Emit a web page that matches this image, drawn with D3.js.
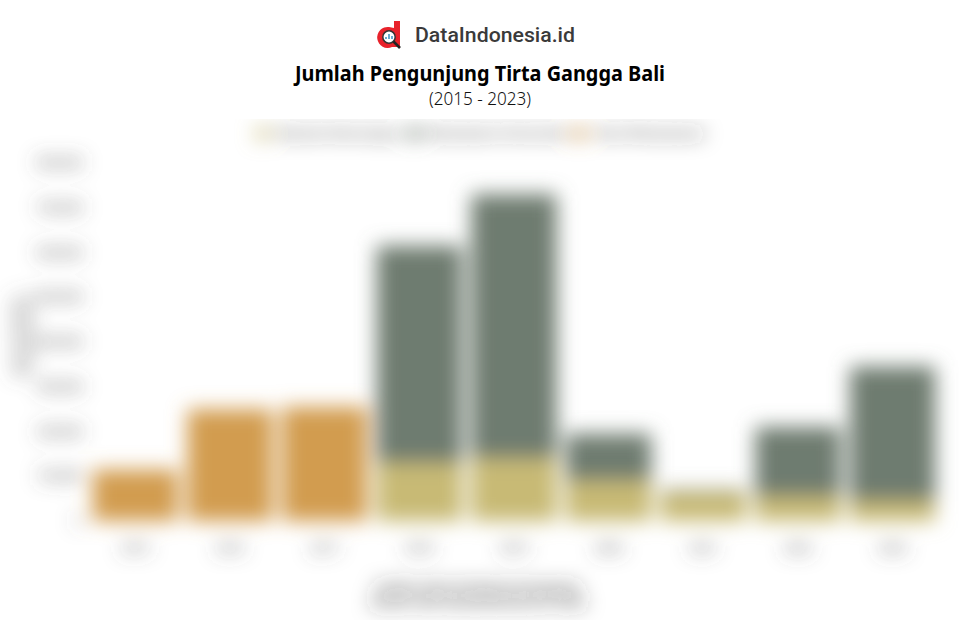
<!DOCTYPE html>
<html><head><meta charset="utf-8">
<script src="https://cdn.jsdelivr.net/npm/d3@7"></script>
<style>html,body{margin:0;background:#fff}svg{display:block}text{font-family:"Noto Sans",sans-serif}</style>
</head><body><svg id="c" width="960" height="620"></svg>
<script>
const years = ["2015","2016","2017","2018","2019","2020","2021","2022","2023"];
const seriesNames = ["Wisatawan Mancanegara","Wisatawan Domestik","Total Wisatawan"];
const seriesOrange = [115000,250000,255000,0,0,0,0,0,0];
const seriesKhaki = [0,0,0,130000,140000,90000,62000,55000,45000];
const seriesGrey = [0,0,0,485000,590000,105000,8000,155000,300000];
const yTicks = [0,100000,200000,300000,400000,500000,600000,700000,800000];
const colors = ["#d29c50","#c8ba74","#6e7b70"];
const svg = d3.select("#c");

// header
const logo = svg.append("g").attr("transform","translate(378,21)");
logo.append("path").attr("d","M11 6 A10.5 10.5 0 1 0 14 26 L22 26 L22 0 L16 0 L16 7 Z").attr("fill","#e8222b");
logo.append("circle").attr("cx",11).attr("cy",16).attr("r",6.2).attr("fill","#fff").attr("stroke","#333").attr("stroke-width",1.5);
logo.append("path").attr("d","M15.5 20.5 L22 27").attr("stroke","#222").attr("stroke-width",2.6);
logo.append("path").attr("d","M8 18 v-2 M11 18 v-5 M14 18 v-3").attr("stroke","#4d9ec9").attr("stroke-width",1.7);
svg.append("text").attr("x",415).attr("y",42).attr("font-size",21).attr("font-weight",500).style("font-family","Roboto").attr("fill","#3a3a3a").attr("textLength",160).attr("lengthAdjust","spacingAndGlyphs").text("DataIndonesia.id");
svg.append("text").attr("x",480).attr("y",81).attr("text-anchor","middle").attr("font-size",22).attr("font-weight",700).attr("fill","#000").attr("textLength",370).attr("lengthAdjust","spacingAndGlyphs").text("Jumlah Pengunjung Tirta Gangga Bali");
svg.append("text").attr("x",480).attr("y",105).attr("text-anchor","middle").attr("font-size",18).attr("font-weight",300).attr("fill","#111").attr("textLength",102).attr("lengthAdjust","spacingAndGlyphs").text("(2015 - 2023)");

// blurred chart
const defs = svg.append("defs");
defs.append("filter").attr("id","b").attr("filterUnits","userSpaceOnUse").attr("x",-40).attr("y",70).attr("width",1040).attr("height",600)
  .append("feGaussianBlur").attr("stdDeviation",10);
defs.append("clipPath").attr("id","cp").append("rect").attr("x",0).attr("y",119).attr("width",960).attr("height",501);
const outer = svg.append("g").attr("clip-path","url(#cp)");
const g = outer.append("g").attr("filter","url(#b)");

const x = d3.scaleBand().domain(years).range([88,940]).paddingInner(0.1).paddingOuter(0.05);
const y = d3.scaleLinear().domain([0,800000]).range([521,163]);

// y axis
g.selectAll(".yt").data(yTicks).join("text").attr("x",82).attr("y",d=>y(d)+4).attr("text-anchor","end").attr("font-size",12).attr("font-weight",600).attr("fill","#555")
  .text(d=>d3.format(",")(d).replace(/,/g,"."));
g.append("text").attr("transform","translate(20,335) rotate(-90)").attr("text-anchor","middle").attr("font-size",11).attr("font-weight",600).attr("fill","#666").attr("textLength",80).attr("lengthAdjust","spacingAndGlyphs").text("Jumlah");
g.append("text").attr("transform","translate(32,335) rotate(-90)").attr("text-anchor","middle").attr("font-size",11).attr("font-weight",600).attr("fill","#666").attr("textLength",80).attr("lengthAdjust","spacingAndGlyphs").text("Pengunjung");
// x axis
g.selectAll(".xt").data(years).join("text").attr("x",d=>x(d)+x.bandwidth()/2).attr("y",552).attr("text-anchor","middle").attr("font-size",12).attr("font-weight",600).attr("fill","#555").text(d=>d);

// stacked bars
const stackData = years.map((yr,i)=>({yr,a:seriesOrange[i],b:seriesKhaki[i],c:seriesGrey[i]}));
const stacked = d3.stack().keys(["a","b","c"])(stackData);
g.selectAll(".s").data(stacked).join("g").attr("fill",(d,i)=>colors[i])
  .selectAll("rect").data(d=>d.map(v=>({v,yr:v.data.yr}))).join("rect")
  .attr("x",d=>x(d.yr)).attr("width",x.bandwidth())
  .attr("y",d=>y(d.v[1])).attr("height",d=>y(d.v[0])-y(d.v[1]));

// legend
const lg = [[256,seriesNames[0],colors[1],130],[408,seriesNames[1],colors[2],148],[574,seriesNames[2],colors[0],116]];
lg.forEach(([lx,t,c,w])=>{
  g.append("rect").attr("x",lx).attr("y",128).attr("width",11).attr("height",11).attr("fill",c);
  g.append("text").attr("x",lx+15).attr("y",137).attr("font-size",11).attr("font-weight",600).attr("fill","#333").attr("textLength",w).attr("lengthAdjust","spacingAndGlyphs").text(t);
});
// source
g.append("text").attr("x",478).attr("y",591).attr("text-anchor","middle").attr("font-size",12).attr("font-weight",600).attr("fill","#333").attr("textLength",205).attr("lengthAdjust","spacingAndGlyphs").text("Sumber: Dinas Pariwisata Karangasem");
g.append("text").attr("x",478).attr("y",607).attr("text-anchor","middle").attr("font-size",12).attr("font-weight",600).attr("fill","#333").attr("textLength",215).attr("lengthAdjust","spacingAndGlyphs").text("Diolah oleh DataIndonesia.id, 2024");
</script></body></html>
